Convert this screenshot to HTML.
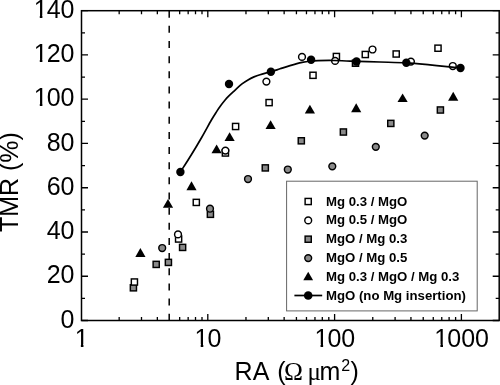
<!DOCTYPE html><html><head><meta charset="utf-8"><title>TMR vs RA</title>
<style>html,body{margin:0;padding:0;background:#fff}svg{display:block}text{font-family:"Liberation Sans",sans-serif;fill:#000}.s{font-family:"Liberation Serif",serif}.lg{font-weight:bold;font-size:13.2px}</style></head><body>
<svg width="500" height="385" viewBox="0 0 500 385">
<rect width="500" height="385" fill="#fff"/>
<line x1="169.2" y1="10.7" x2="169.2" y2="320.5" stroke="#000" stroke-width="1.5" stroke-dasharray="7 8.15"/>
<path d="M81.5 320.50h6.5M499.2 320.50h-6.5M81.5 298.37h3.5M499.2 298.37h-3.5M81.5 276.24h6.5M499.2 276.24h-6.5M81.5 254.11h3.5M499.2 254.11h-3.5M81.5 231.99h6.5M499.2 231.99h-6.5M81.5 209.86h3.5M499.2 209.86h-3.5M81.5 187.73h6.5M499.2 187.73h-6.5M81.5 165.60h3.5M499.2 165.60h-3.5M81.5 143.47h6.5M499.2 143.47h-6.5M81.5 121.34h3.5M499.2 121.34h-3.5M81.5 99.21h6.5M499.2 99.21h-6.5M81.5 77.09h3.5M499.2 77.09h-3.5M81.5 54.96h6.5M499.2 54.96h-6.5M81.5 32.83h3.5M499.2 32.83h-3.5M81.5 10.70h6.5M499.2 10.70h-6.5M119.17 320.5v-3.5M119.17 10.7v3.5M141.50 320.5v-3.5M141.50 10.7v3.5M157.34 320.5v-3.5M157.34 10.7v3.5M179.67 320.5v-3.5M179.67 10.7v3.5M188.16 320.5v-3.5M188.16 10.7v3.5M195.51 320.5v-3.5M195.51 10.7v3.5M202.00 320.5v-3.5M202.00 10.7v3.5M207.80 320.5v-6.5M207.80 10.7v6.5M245.97 320.5v-3.5M245.97 10.7v3.5M268.30 320.5v-3.5M268.30 10.7v3.5M284.14 320.5v-3.5M284.14 10.7v3.5M296.43 320.5v-3.5M296.43 10.7v3.5M306.47 320.5v-3.5M306.47 10.7v3.5M314.96 320.5v-3.5M314.96 10.7v3.5M322.31 320.5v-3.5M322.31 10.7v3.5M328.80 320.5v-3.5M328.80 10.7v3.5M334.60 320.5v-6.5M334.60 10.7v6.5M372.77 320.5v-3.5M372.77 10.7v3.5M395.10 320.5v-3.5M395.10 10.7v3.5M410.94 320.5v-3.5M410.94 10.7v3.5M423.23 320.5v-3.5M423.23 10.7v3.5M433.27 320.5v-3.5M433.27 10.7v3.5M441.76 320.5v-3.5M441.76 10.7v3.5M449.11 320.5v-3.5M449.11 10.7v3.5M455.60 320.5v-3.5M455.60 10.7v3.5M461.40 320.5v-6.5M461.40 10.7v6.5" stroke="#000" stroke-width="1.3" fill="none"/>
<rect x="130.33" y="284.73" width="6.15" height="6.15" fill="#8a8a8a" stroke="#000" stroke-width="1.45"/>
<rect x="153.12" y="261.32" width="6.15" height="6.15" fill="#8a8a8a" stroke="#000" stroke-width="1.45"/>
<rect x="165.33" y="259.32" width="6.15" height="6.15" fill="#8a8a8a" stroke="#000" stroke-width="1.45"/>
<rect x="179.53" y="244.33" width="6.15" height="6.15" fill="#8a8a8a" stroke="#000" stroke-width="1.45"/>
<rect x="207.33" y="211.23" width="6.15" height="6.15" fill="#8a8a8a" stroke="#000" stroke-width="1.45"/>
<rect x="262.23" y="164.83" width="6.15" height="6.15" fill="#8a8a8a" stroke="#000" stroke-width="1.45"/>
<rect x="298.23" y="137.73" width="6.15" height="6.15" fill="#8a8a8a" stroke="#000" stroke-width="1.45"/>
<rect x="340.32" y="128.93" width="6.15" height="6.15" fill="#8a8a8a" stroke="#000" stroke-width="1.45"/>
<rect x="387.73" y="120.33" width="6.15" height="6.15" fill="#8a8a8a" stroke="#000" stroke-width="1.45"/>
<rect x="437.32" y="106.92" width="6.15" height="6.15" fill="#8a8a8a" stroke="#000" stroke-width="1.45"/>
<rect x="352.43" y="60.12" width="6.15" height="6.15" fill="#8a8a8a" stroke="#000" stroke-width="1.45"/>
<rect x="131.33" y="278.93" width="6.15" height="6.15" fill="#fff" stroke="#000" stroke-width="1.45"/>
<rect x="175.53" y="235.93" width="6.15" height="6.15" fill="#fff" stroke="#000" stroke-width="1.45"/>
<rect x="193.23" y="199.33" width="6.15" height="6.15" fill="#fff" stroke="#000" stroke-width="1.45"/>
<rect x="222.33" y="149.93" width="6.15" height="6.15" fill="#fff" stroke="#000" stroke-width="1.45"/>
<rect x="232.53" y="123.42" width="6.15" height="6.15" fill="#fff" stroke="#000" stroke-width="1.45"/>
<rect x="266.03" y="99.52" width="6.15" height="6.15" fill="#fff" stroke="#000" stroke-width="1.45"/>
<rect x="309.93" y="72.22" width="6.15" height="6.15" fill="#fff" stroke="#000" stroke-width="1.45"/>
<rect x="333.32" y="53.42" width="6.15" height="6.15" fill="#fff" stroke="#000" stroke-width="1.45"/>
<rect x="362.23" y="51.42" width="6.15" height="6.15" fill="#fff" stroke="#000" stroke-width="1.45"/>
<rect x="393.12" y="50.92" width="6.15" height="6.15" fill="#fff" stroke="#000" stroke-width="1.45"/>
<rect x="434.93" y="45.12" width="6.15" height="6.15" fill="#fff" stroke="#000" stroke-width="1.45"/>
<circle cx="162.2" cy="248" r="3.4" fill="#8a8a8a" stroke="#000" stroke-width="1.45"/>
<circle cx="210" cy="208.7" r="3.4" fill="#8a8a8a" stroke="#000" stroke-width="1.45"/>
<circle cx="248" cy="179" r="3.4" fill="#8a8a8a" stroke="#000" stroke-width="1.45"/>
<circle cx="287.8" cy="169.5" r="3.4" fill="#8a8a8a" stroke="#000" stroke-width="1.45"/>
<circle cx="332.3" cy="166.3" r="3.4" fill="#8a8a8a" stroke="#000" stroke-width="1.45"/>
<circle cx="375.8" cy="146.8" r="3.4" fill="#8a8a8a" stroke="#000" stroke-width="1.45"/>
<circle cx="424.7" cy="135.6" r="3.4" fill="#8a8a8a" stroke="#000" stroke-width="1.45"/>
<circle cx="178" cy="234.4" r="3.4" fill="#fff" stroke="#000" stroke-width="1.45"/>
<circle cx="225.4" cy="150.6" r="3.4" fill="#fff" stroke="#000" stroke-width="1.45"/>
<circle cx="266.4" cy="81.6" r="3.4" fill="#fff" stroke="#000" stroke-width="1.45"/>
<circle cx="302" cy="56.9" r="3.4" fill="#fff" stroke="#000" stroke-width="1.45"/>
<circle cx="335.1" cy="60.9" r="3.4" fill="#fff" stroke="#000" stroke-width="1.45"/>
<circle cx="372.5" cy="49.5" r="3.4" fill="#fff" stroke="#000" stroke-width="1.45"/>
<circle cx="410.9" cy="61.6" r="3.4" fill="#fff" stroke="#000" stroke-width="1.45"/>
<circle cx="452.8" cy="66.0" r="3.4" fill="#fff" stroke="#000" stroke-width="1.45"/>
<path d="M140.4 248.10L145.50 256.90L135.30 256.90Z" fill="#000"/>
<path d="M168 198.90L173.10 207.80L162.90 207.80Z" fill="#000"/>
<path d="M191.5 181.30L196.60 190.30L186.40 190.30Z" fill="#000"/>
<path d="M216.6 144.50L221.70 153.30L211.50 153.30Z" fill="#000"/>
<path d="M229.6 132.30L234.70 141.00L224.50 141.00Z" fill="#000"/>
<path d="M270.6 120.30L275.70 128.90L265.50 128.90Z" fill="#000"/>
<path d="M309.9 104.70L315.00 113.50L304.80 113.50Z" fill="#000"/>
<path d="M356.2 103.30L361.30 112.20L351.10 112.20Z" fill="#000"/>
<path d="M402.6 93.40L407.70 102.00L397.50 102.00Z" fill="#000"/>
<path d="M453.2 91.80L458.30 100.80L448.10 100.80Z" fill="#000"/>
<path d="M180.4 172C182.20 169.17 187.63 160.80 191.2 155C194.77 149.20 198.43 143.03 201.8 137.2C205.17 131.37 208.93 124.27 211.4 120C213.87 115.73 215.07 113.97 216.6 111.6C218.13 109.23 219.28 107.60 220.6 105.8C221.92 104.00 223.20 102.37 224.5 100.8C225.80 99.23 226.72 98.10 228.4 96.4C230.08 94.70 232.33 92.68 234.6 90.6C236.87 88.52 239.77 85.68 242 83.9C244.23 82.12 246.00 81.07 248 79.9C250.00 78.73 252.00 77.77 254 76.9C256.00 76.03 257.17 75.57 260 74.7C262.83 73.83 267.67 72.68 271 71.7C274.33 70.72 276.83 69.82 280 68.8C283.17 67.78 286.33 66.67 290 65.6C293.67 64.53 298.50 63.17 302 62.4C305.50 61.63 308.33 61.30 311 61.0C313.67 60.70 314.17 60.68 318 60.6C321.83 60.52 328.67 60.42 334 60.5C339.33 60.58 342.33 60.85 350 61.1C357.67 61.35 370.62 61.70 380 62.0C389.38 62.30 397.97 62.42 406.3 62.9C414.63 63.38 422.38 64.20 430 64.9C437.62 65.60 446.92 66.58 452 67.1C457.08 67.62 459.08 67.85 460.5 68.0" stroke="#000" stroke-width="1.7" fill="none"/>
<circle cx="180.4" cy="172" r="4.2" fill="#000"/>
<circle cx="229" cy="84" r="4.2" fill="#000"/>
<circle cx="270.9" cy="71.7" r="4.2" fill="#000"/>
<circle cx="311.1" cy="59.8" r="4.2" fill="#000"/>
<circle cx="356.5" cy="61.5" r="4.2" fill="#000"/>
<circle cx="406.3" cy="62.7" r="4.2" fill="#000"/>
<circle cx="460.5" cy="68.0" r="4.2" fill="#000"/>
<rect x="81.5" y="10.7" width="417.7" height="309.8" fill="none" stroke="#000" stroke-width="1.5"/>
<rect x="286.6" y="181.2" width="190.6" height="129.7" fill="#fff" stroke="#666" stroke-width="1"/>
<rect x="305.12" y="198.43" width="6.15" height="6.15" fill="#fff" stroke="#000" stroke-width="1.45"/>
<circle cx="308.2" cy="220.4" r="3.4" fill="#fff" stroke="#000" stroke-width="1.45"/>
<rect x="305.12" y="236.12" width="6.15" height="6.15" fill="#8a8a8a" stroke="#000" stroke-width="1.45"/>
<circle cx="308.2" cy="258.1" r="3.4" fill="#8a8a8a" stroke="#000" stroke-width="1.45"/>
<path d="M308.2 271.70L313.10 280.20L303.30 280.20Z" fill="#000"/>
<line x1="294.4" y1="295.5" x2="322.2" y2="295.5" stroke="#000" stroke-width="1.7"/><circle cx="308.2" cy="295.5" r="4.3" fill="#000"/>
<text class="lg" x="326.0" y="205.5">Mg 0.3 / MgO</text>
<text class="lg" x="326.0" y="224.4">Mg 0.5 / MgO</text>
<text class="lg" x="326.0" y="243.2">MgO / Mg 0.3</text>
<text class="lg" x="326.0" y="262.1">MgO / Mg 0.5</text>
<text class="lg" x="326.0" y="280.9">Mg 0.3 / MgO / Mg 0.3</text>
<text class="lg" x="326.0" y="299.5">MgO (no Mg insertion)</text>
<text x="60.60" y="327.70" font-size="25.0">0</text>
<text x="46.69" y="283.44" font-size="25.0">20</text>
<text x="46.69" y="239.19" font-size="25.0">40</text>
<text x="46.69" y="194.93" font-size="25.0">60</text>
<text x="46.69" y="150.67" font-size="25.0">80</text>
<text y="106.41" font-size="25.0"><tspan x="33.69">1</tspan><tspan x="46.69">00</tspan></text>
<text y="62.16" font-size="25.0"><tspan x="33.69">1</tspan><tspan x="46.69">20</tspan></text>
<text y="17.90" font-size="25.0"><tspan x="33.69">1</tspan><tspan x="46.69">40</tspan></text>
<text y="346.50" font-size="25.0"><tspan x="74.75">1</tspan></text>
<text y="346.50" font-size="25.0"><tspan x="194.60">1</tspan><tspan x="207.60">0</tspan></text>
<text y="346.50" font-size="25.0"><tspan x="314.44">1</tspan><tspan x="327.45">00</tspan></text>
<text y="346.50" font-size="25.0"><tspan x="434.29">1</tspan><tspan x="447.30">000</tspan></text>
<rect x="34.69" y="103.96" width="5.10" height="3.2" fill="#fff"/>
<rect x="42.39" y="103.96" width="4.95" height="3.2" fill="#fff"/>
<rect x="34.69" y="59.71" width="5.10" height="3.2" fill="#fff"/>
<rect x="42.39" y="59.71" width="4.95" height="3.2" fill="#fff"/>
<rect x="34.69" y="15.45" width="5.10" height="3.2" fill="#fff"/>
<rect x="42.39" y="15.45" width="4.95" height="3.2" fill="#fff"/>
<rect x="75.75" y="344.05" width="5.10" height="3.2" fill="#fff"/>
<rect x="83.45" y="344.05" width="4.95" height="3.2" fill="#fff"/>
<rect x="195.60" y="344.05" width="5.10" height="3.2" fill="#fff"/>
<rect x="203.30" y="344.05" width="4.95" height="3.2" fill="#fff"/>
<rect x="315.44" y="344.05" width="5.10" height="3.2" fill="#fff"/>
<rect x="323.14" y="344.05" width="4.95" height="3.2" fill="#fff"/>
<rect x="435.29" y="344.05" width="5.10" height="3.2" fill="#fff"/>
<rect x="442.99" y="344.05" width="4.95" height="3.2" fill="#fff"/>
<text transform="translate(17.7 232.1) rotate(-90)" font-size="25">TMR (%)</text>
<text y="379.8" font-size="25"><tspan x="234.6">RA</tspan><tspan x="277.2">(</tspan><tspan class="s" font-size="25.5" x="283.9">Ω</tspan><tspan class="s" font-size="25" x="307.4">μ</tspan><tspan x="319.4">m</tspan><tspan font-size="16" x="341.2" dy="-9">2</tspan><tspan x="350.4" dy="9">)</tspan></text>
</svg></body></html>
